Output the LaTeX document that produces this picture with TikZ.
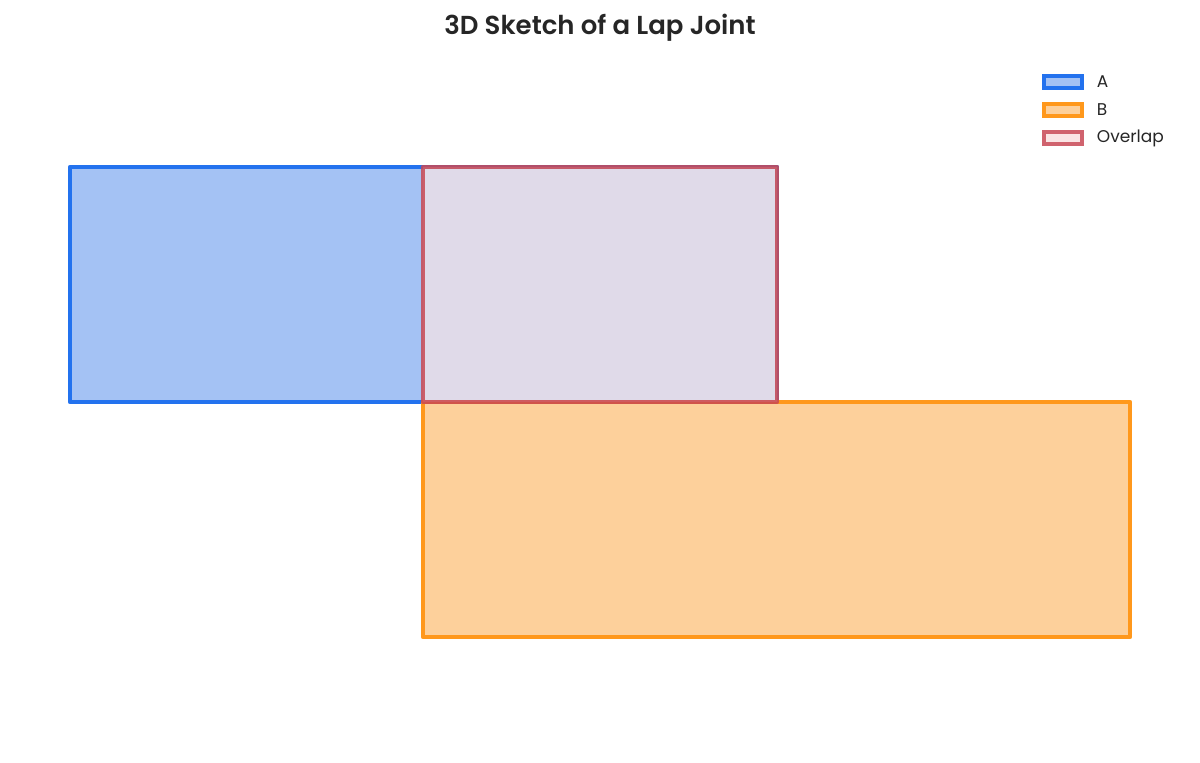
\documentclass[tikz,border=0pt]{standalone}
\usepackage{fontspec}
\setmainfont{Poppins}[BoldFont={Poppins SemiBold}]
\usepackage{tikz}
\usetikzlibrary{calc, positioning, arrows.meta}
\usepackage{tkz-euclide}
\definecolor{blueA}{RGB}{35,114,238}
\definecolor{blueAfill}{RGB}{164,194,244}
\definecolor{orangeB}{RGB}{255,152,28}
\definecolor{orangeBfill}{RGB}{253,208,155}
\definecolor{redO}{RGB}{200,72,84}
\definecolor{redOfill}{RGB}{250,229,229}
\tikzset{
  plateA/.style={draw=blueA, fill=blueAfill, line width=4.5pt},
  plateB/.style={draw=orangeB, fill=orangeBfill, line width=4.5pt},
  lap/.style={draw=redO, fill=redOfill, line width=4.5pt, fill opacity=.7, draw opacity=.85},
  swatch/.style={minimum width=38pt, minimum height=12pt, inner sep=0pt, line width=3.5pt},
  keytext/.style={font=\fontsize{17}{20}\selectfont, text=black!85, inner sep=0pt}
}

\begin{document}
\begin{tikzpicture}[x=1pt, y=1pt]
  \useasboundingbox (0,0) rectangle (1200,763);
  \tkzDefPoints{70/361/A, 777/361/B, 777/596/C, 70/596/D, 423/361/P, 423/596/Q,
    423/126/E, 1130/126/F, 1130/361/G}
  \tkzDrawPolygon[plateA](A,B,C,D)
  \tkzDrawPolygon[plateB](E,F,G,P)
  \tkzDrawPolygon[lap](P,B,C,Q)
  \node[font=\fontsize{26}{30}\selectfont\bfseries, text=black!85] (title) at (600,735) {3D Sketch of a Lap Joint};
  \node[swatch, draw=blueA, fill=blueAfill] (keyA) at (1063,681) {};
  \node[swatch, draw=orangeB, fill=orangeBfill] (keyB) at (1063,653) {};
  \node[swatch, draw=redO!85, fill=redOfill] (keyO) at (1063,625) {};
  \node[keytext, right=13pt of keyA] {A};
  \node[keytext, right=13pt of keyB] {B};
  \node[keytext, right=13pt of keyO] {Overlap};
\end{tikzpicture}
\end{document}
